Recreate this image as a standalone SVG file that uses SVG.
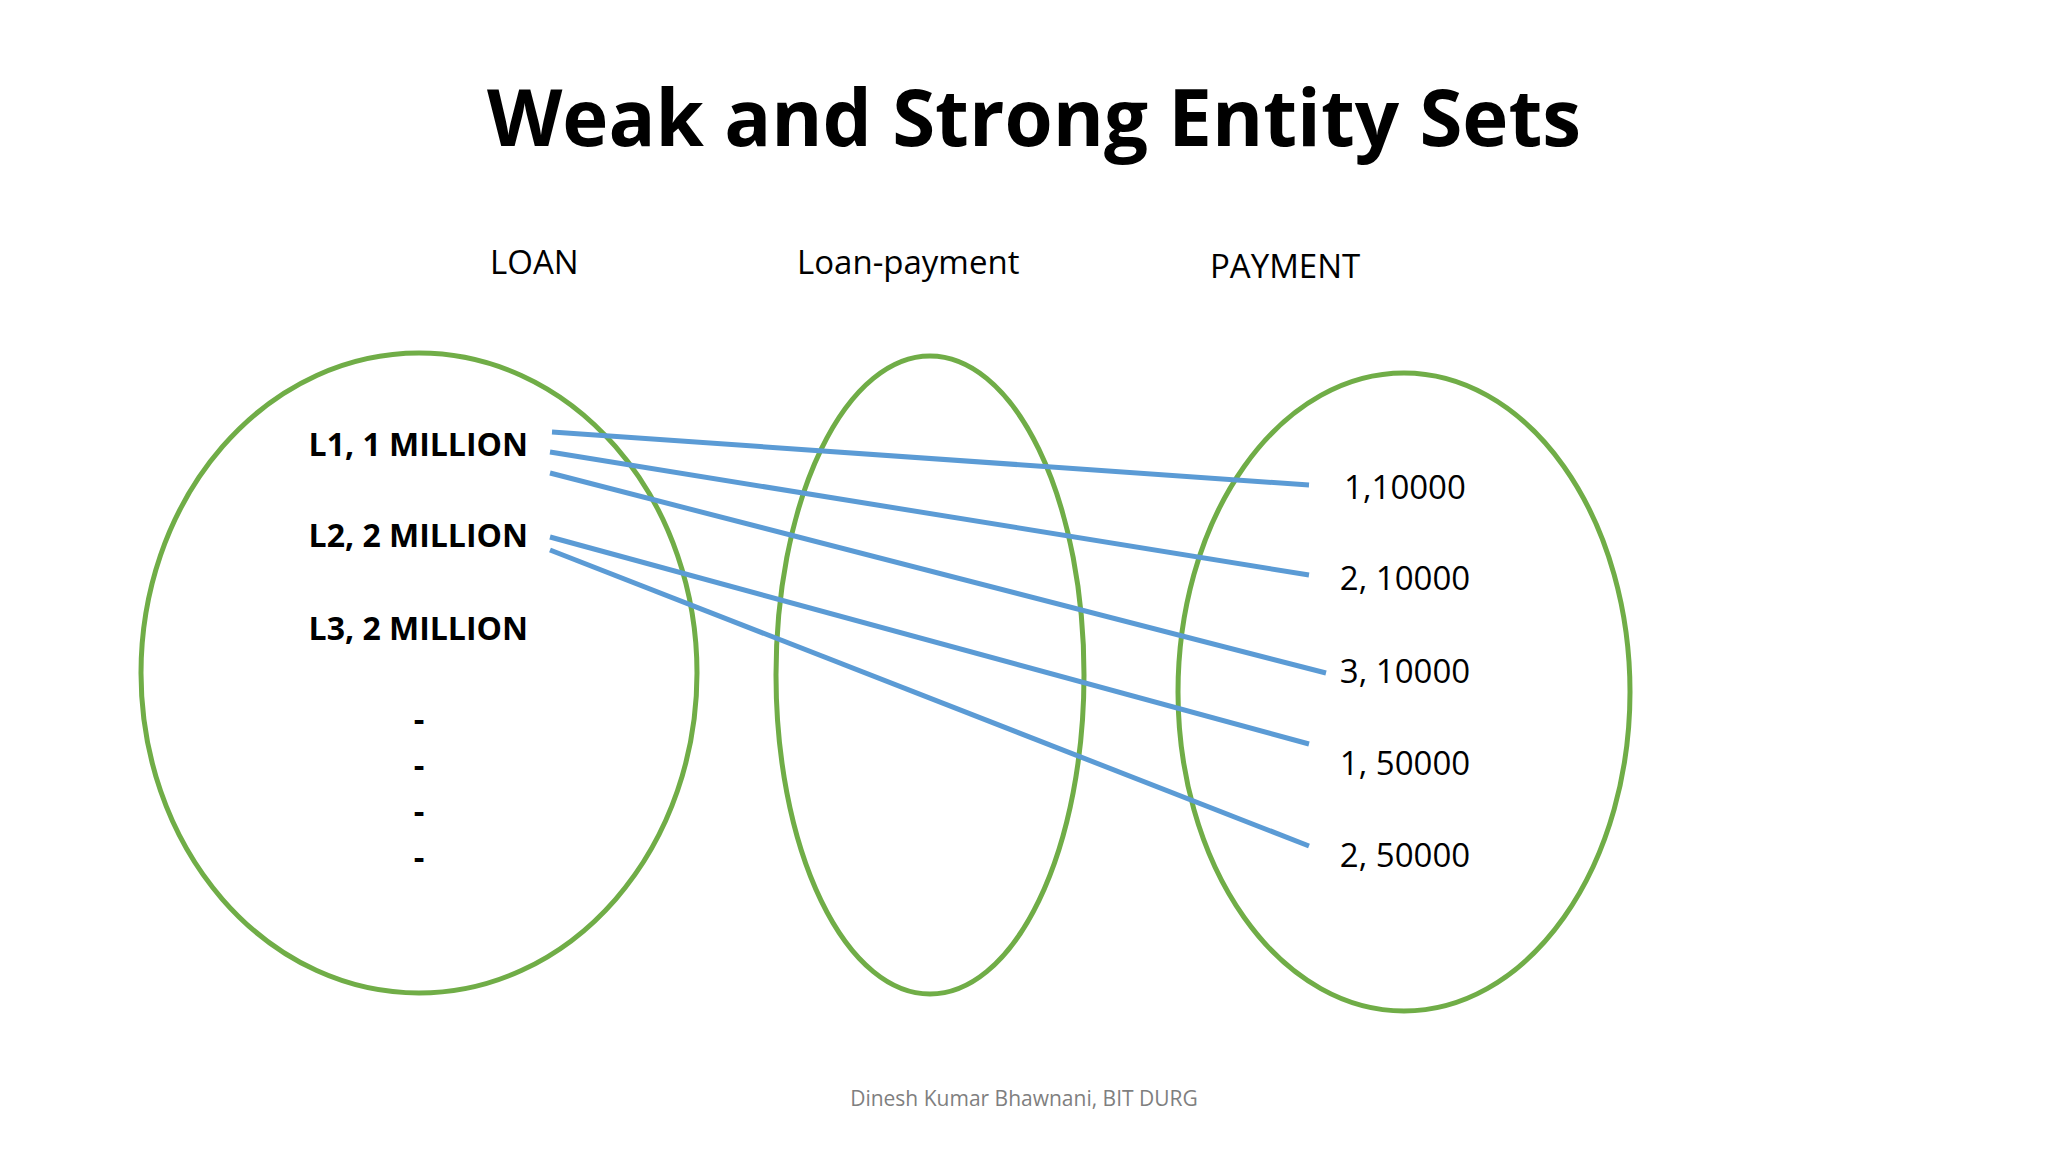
<svg xmlns="http://www.w3.org/2000/svg" width="2048" height="1152" viewBox="0 0 2048 1152">
<style>
.e{fill:none;stroke:#70AD47;stroke-width:5}
.c{stroke:#5B9BD5;stroke-width:5;fill:none}
text{font-family:"Open Sans","Noto Sans",sans-serif;fill:#000}
.h{font-size:33px}
.b{font-size:32px;font-weight:bold;text-anchor:end}
.r{font-size:33px;text-anchor:middle}
</style>
<rect width="2048" height="1152" fill="#fff"/>
<text x="1034" y="146" font-size="78" font-weight="bold" text-anchor="middle">Weak and Strong Entity Sets</text>
<text class="h" x="490" y="274">LOAN</text>
<text class="h" x="797" y="274">Loan-payment</text>
<text class="h" x="1210" y="278">PAYMENT</text>
<g id="loan"><ellipse class="e" cx="419" cy="673" rx="278" ry="320"/>
<text class="b" x="528" y="456">L1, 1 MILLION</text>
<text class="b" x="528" y="547">L2, 2 MILLION</text>
<text class="b" x="528" y="640">L3, 2 MILLION</text>
<g font-size="33" font-weight="bold" text-anchor="middle"><text x="419" y="731">-</text><text x="419" y="777">-</text><text x="419" y="823">-</text><text x="419" y="869">-</text></g>
</g>
<g id="loanpayment"><ellipse class="e" cx="930" cy="675" rx="154" ry="319"/></g>
<g id="payment"><ellipse class="e" cx="1404" cy="692" rx="226" ry="319"/>
<text class="r" x="1405" y="499">1,10000</text>
<text class="r" x="1405" y="590">2, 10000</text>
<text class="r" x="1405" y="683">3, 10000</text>
<text class="r" x="1405" y="775">1, 50000</text>
<text class="r" x="1405" y="867">2, 50000</text>
</g>
<g id="connectors">
<line class="c" x1="552" y1="432" x2="1309" y2="485"/>
<line class="c" x1="550" y1="452" x2="1309" y2="575"/>
<line class="c" x1="550" y1="473" x2="1326" y2="673"/>
<line class="c" x1="550" y1="537" x2="1309" y2="744"/>
<line class="c" x1="550" y1="550" x2="1309" y2="846"/>
</g>
<text x="1024" y="1106" font-size="21" text-anchor="middle" style="fill:#7f7f7f">Dinesh Kumar Bhawnani, BIT DURG</text>
</svg>
